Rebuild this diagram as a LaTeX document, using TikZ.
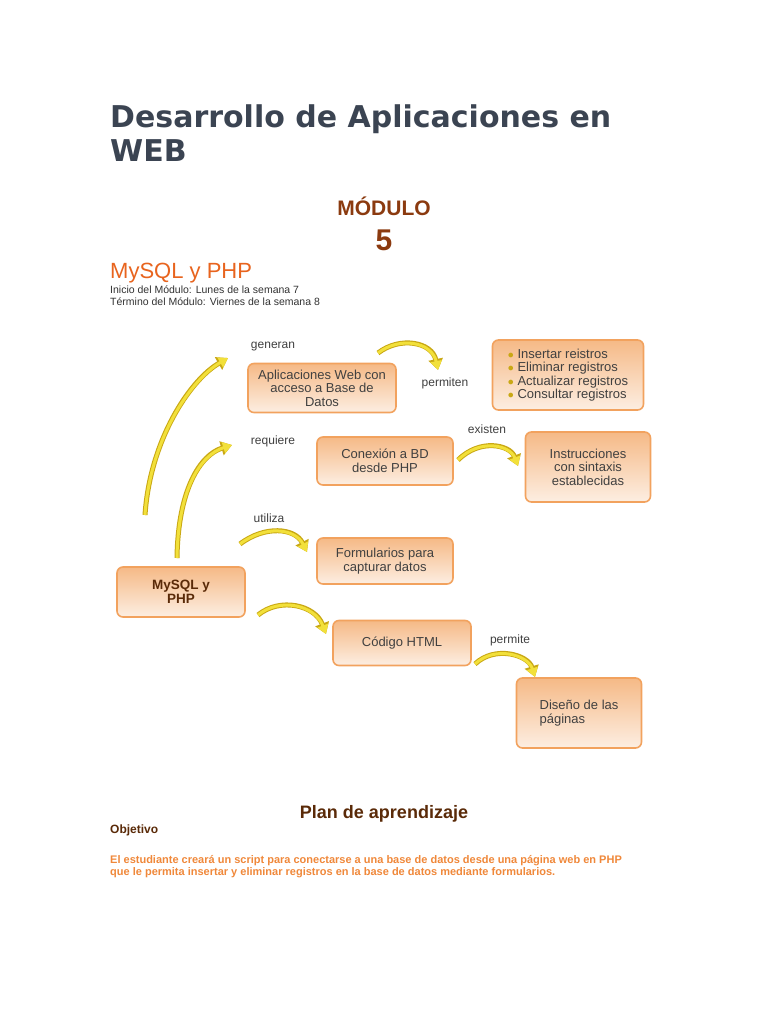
\documentclass[tikz,border=0pt]{standalone}
\usepackage{fontspec}
\setmainfont{Liberation Sans}
\newfontfamily\titf{DejaVu Sans}
\usetikzlibrary{arrows.meta}
\definecolor{titc}{HTML}{3B4452}
\definecolor{brn}{HTML}{8B3A0F}
\definecolor{dbrn}{HTML}{5A2A08}
\definecolor{org}{HTML}{E8641E}
\definecolor{lorg}{HTML}{F0883A}
\definecolor{bx}{HTML}{F2A25E}
\definecolor{yl}{HTML}{F2E03A}
\definecolor{ylo}{HTML}{C9A814}
\begin{document}
\begin{tikzpicture}[x=1pt,y=-1pt,
 box/.style={draw=bx,line width=1.6pt,rounded corners=6pt,top color=bx!75,bottom color=bx!18,
   minimum width=#1,align=center,font=\fontsize{13}{13.5}\selectfont,text=black!75,inner sep=2pt},
 lbl/.style={font=\fontsize{12}{13}\selectfont,text=black!75},
 arr/.style={draw=ylo,line width=5pt,-{Triangle[length=11pt,width=14pt]},
   postaction={draw=yl,line width=3pt,-{Triangle[length=9pt,width=11pt]}}}]
\useasboundingbox (0,0) rectangle (768,1024);
\fill[white] (0,0) rectangle (768,1024);
% header texts
\node[anchor=base west,font=\titf\bfseries\fontsize{30}{36}\selectfont,text=titc,inner sep=0] (t1) at (110,128) {Desarrollo de Aplicaciones en};
\node[anchor=base west,font=\titf\bfseries\fontsize{30}{36}\selectfont,text=titc,inner sep=0] (t2) at (110,162) {WEB};
\node[anchor=base,font=\bfseries\fontsize{21}{24}\selectfont,text=brn,inner sep=0] (m1) at (384,215) {MÓDULO};
\node[anchor=base,font=\bfseries\fontsize{30}{32}\selectfont,text=brn,inner sep=0] (m2) at (384,250) {5};
\node[anchor=base west,font=\fontsize{22}{24}\selectfont,text=org,inner sep=0] (s1) at (110,278) {MySQL y PHP};
\node[anchor=base west,font=\fontsize{10.5}{12}\selectfont,text=black!80,inner sep=0] (s2) at (110,293) {Inicio del Módulo: Lunes de la semana 7};
\node[anchor=base west,font=\fontsize{10.5}{12}\selectfont,text=black!80,inner sep=0] (s3) at (110,305) {Término del Módulo: Viernes de la semana 8};
% boxes
\node[box=148pt,minimum height=49pt] (apl) at (322,388) {Aplicaciones Web con\\acceso a Base de\\Datos};
\node[box=151pt,minimum height=70pt,align=left] (ins) at (568,375) {%
\textcolor{ylo}{$\bullet$} Insertar reistros\\\textcolor{ylo}{$\bullet$} Eliminar registros\\\textcolor{ylo}{$\bullet$} Actualizar registros\\\textcolor{ylo}{$\bullet$} Consultar registros};
\node[box=136pt,minimum height=48pt] (con) at (385,461) {Conexión a BD\\desde PHP};
\node[box=125pt,minimum height=70pt] (inst) at (588,467) {Instrucciones\\con sintaxis\\establecidas};
\node[box=136pt,minimum height=46pt] (form) at (385,561) {Formularios para\\capturar datos};
\node[box=128pt,minimum height=50pt,font=\bfseries\fontsize{13.5}{14.5}\selectfont,text=dbrn] (my) at (181,592) {MySQL y\\PHP};
\node[box=138pt,minimum height=45pt] (cod) at (402,643) {Código HTML};
\node[box=125pt,minimum height=70pt,align=left] (dis) at (579,713) {Diseño de las\\páginas};
% labels
\node[lbl] (lg) at (273,347) {generan};
\node[lbl] (lp) at (445,383) {permiten};
\node[lbl] (lr) at (273,441) {requiere};
\node[lbl] (le) at (487,429) {existen};
\node[lbl] (lu) at (269,518) {utiliza};
\node[lbl] (lpe) at (510,640) {permite};
% arrow coordinates
\coordinate (a1s) at (145,515); \coordinate (a1e) at (228,358);
\coordinate (a2s) at (177,558); \coordinate (a2e) at (232,445);
\coordinate (a3s) at (378,353); \coordinate (a3e) at (438,370);
\coordinate (a4s) at (458,460); \coordinate (a4e) at (518,466);
\coordinate (a5s) at (240,544); \coordinate (a5e) at (307,552);
\coordinate (a6s) at (258,615); \coordinate (a6e) at (326,634);
\coordinate (a7s) at (475,664); \coordinate (a7e) at (535,677);
\draw[arr] (a1s) .. controls (150,440) and (190,380) .. (a1e);
\draw[arr] (a2s) .. controls (178,490) and (200,455) .. (a2e);
\draw[arr] (a3s) .. controls (400,336) and (432,342) .. (a3e);
\draw[arr] (a4s) .. controls (480,438) and (510,445) .. (a4e);
\draw[arr] (a5s) .. controls (265,525) and (295,528) .. (a5e);
\draw[arr] (a6s) .. controls (280,597) and (315,605) .. (a6e);
\draw[arr] (a7s) .. controls (495,645) and (528,655) .. (a7e);
% footer
\node[anchor=base,font=\bfseries\fontsize{18}{20}\selectfont,text=dbrn,inner sep=0] (pl) at (384,818) {Plan de aprendizaje};
\node[anchor=base west,font=\bfseries\fontsize{12}{14}\selectfont,text=dbrn,inner sep=0] (ob) at (110,833) {Objetivo};
\node[anchor=base west,font=\bfseries\fontsize{11}{12}\selectfont,text=lorg,inner sep=0] (p1) at (110,863) {El estudiante creará un script para conectarse a una base de datos desde una página web en PHP};
\node[anchor=base west,font=\bfseries\fontsize{11}{12}\selectfont,text=lorg,inner sep=0] (p2) at (110,875) {que le permita insertar y eliminar registros en la base de datos mediante formularios.};
\end{tikzpicture}
\end{document}
